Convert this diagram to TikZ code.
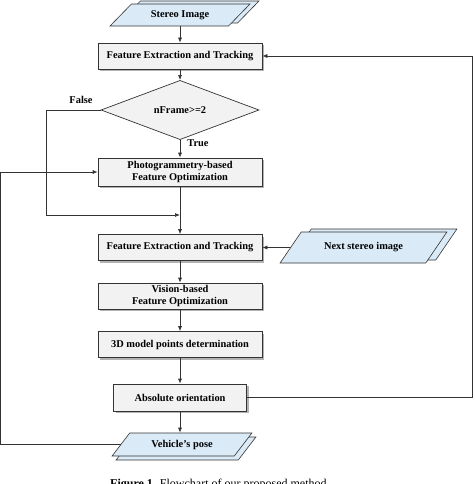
\documentclass[tikz,border=0pt]{standalone}
\usepackage{fontspec}
\setmainfont{Liberation Serif}
\usetikzlibrary{shapes.geometric,shadows,arrows.meta}

\definecolor{boxfill}{HTML}{F2F2F2}
\definecolor{datafill}{HTML}{DAEAF6}
\definecolor{linegray}{HTML}{333333}

\tikzset{
  procbox/.style={draw=linegray, fill=boxfill, line width=0.7pt,
    minimum width=164pt, minimum height=26pt, inner sep=2pt, align=center,
    font=\fontsize{10.4}{11.5}\selectfont\bfseries,
    drop shadow={shadow xshift=2pt, shadow yshift=-2pt, fill=black!60, opacity=0.5}},
  databox/.style={trapezium, trapezium left angle=40, trapezium right angle=140,
    trapezium stretches=true, draw=linegray, fill=datafill, line width=0.6pt,
    inner sep=1pt, font=\fontsize{10.4}{11.5}\selectfont\bfseries},
  decbox/.style={diamond, draw=linegray, fill=boxfill, line width=0.7pt,
    minimum width=158pt, minimum height=48pt, inner sep=0pt,
    font=\fontsize{10.4}{11.5}\selectfont\bfseries},
  lbl/.style={font=\fontsize{10.4}{11.5}\selectfont\bfseries, inner sep=0pt},
  flow/.style={draw=linegray, line width=0.7pt, -{Latex[length=5pt,width=4pt]}},
}

\begin{document}
\begin{tikzpicture}[x=1pt,y=-1pt]

% Page size and main column
\def\midx{180}
\useasboundingbox (0,0) rectangle (474,484);
\clip (0,0) rectangle (474,484);

% Helper coordinates for the loops
\coordinate (leftx) at (0.5,0);
\coordinate (falsex) at (46,0);
\coordinate (rightx) at (472,0);
\coordinate (merge) at (\midx,215);

% Draw the data nodes
\node[databox, minimum width=141pt, minimum height=22pt,
  copy shadow={shadow xshift=9pt, shadow yshift=3pt}] (stereo) at (\midx,15) {Stereo Image};
\node[databox, minimum width=167pt, minimum height=31pt,
  copy shadow={shadow xshift=10pt, shadow yshift=3pt}] (next) at (363.5,247.5) {Next stereo image};
\node[databox, trapezium left angle=47, trapezium right angle=133,
  minimum width=140pt, minimum height=23pt,
  copy shadow={shadow xshift=4pt, shadow yshift=-4pt}] (pose) at (182,444.5) {Vehicle's pose};

% Draw the process boxes
\node[procbox] (track1) at (\midx,56) {Feature Extraction and Tracking};
\node[decbox] (check) at (\midx,110) {nFrame>=2};
\node[procbox, minimum height=28pt] (photo) at (\midx,172) {Photogrammetry-based\\Feature Optimization};
\node[procbox] (track2) at (\midx,247.5) {Feature Extraction and Tracking};
\node[procbox] (vision) at (\midx,296) {Vision-based\\Feature Optimization};
\node[procbox] (model) at (\midx,344.5) {3D model points determination};
\node[procbox, minimum width=133pt, minimum height=27pt] (absor) at (\midx,397.5) {Absolute orientation};

% Branch labels
\node[lbl] (falselbl) at (81,100) {False};
\node[lbl] (truelbl) at (198,143) {True};

% Draw the connectors
\draw[flow] (stereo.south -| track1.north) -- (track1.north);
\draw[flow] (track1) -- (check);
\draw[flow] (check) -- (photo);
\draw[flow] (check.west) -- (check.west -| falsex) |- (merge);
\draw[flow] (photo) -- (track2);
\draw[flow] (next) -- (track2);
\draw[flow] (track2) -- (vision);
\draw[flow] (vision) -- (model);
\draw[flow] (model) -- (absor);
\draw[flow] (absor.south) -- (absor.south |- pose.north);
\draw[flow] (absor.east) -- (absor.east -| rightx) |- (track1.east);
\draw[flow] (pose.west) -- (pose.west -| leftx) |- (photo.west);

% Caption (cut by the page edge)
\node[anchor=base west, inner sep=0pt, font=\fontsize{12}{14}\selectfont] (caption) at (110,487) {\textbf{Figure 1.} Flowchart of our proposed method.};

\end{tikzpicture}
\end{document}
